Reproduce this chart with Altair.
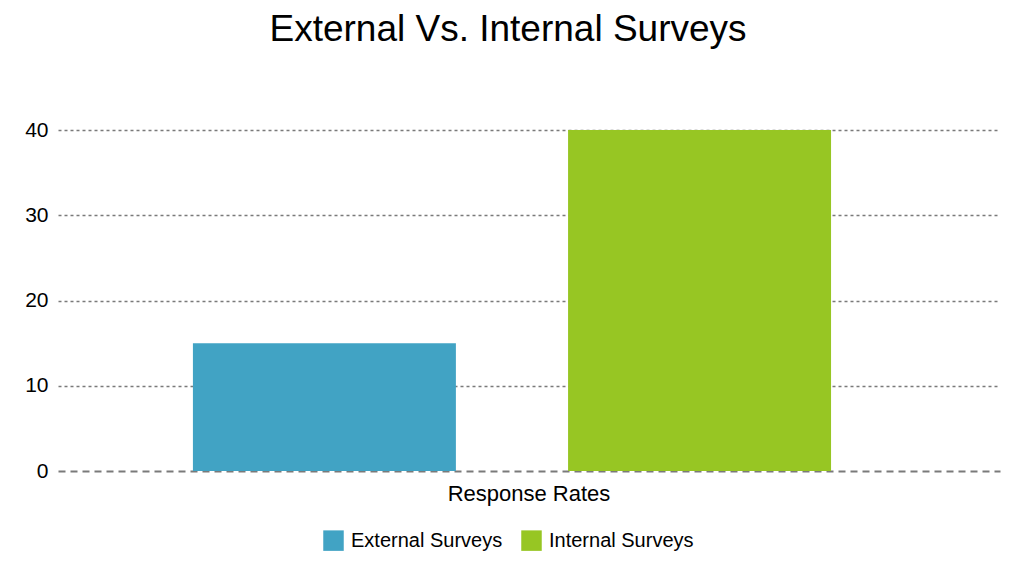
import altair as alt
import pandas as pd

series = ["External Surveys", "Internal Surveys"]
values = [15, 40]
group = ["Response Rates", "Response Rates"]
colors = ["#41a3c4", "#97c623"]

df = pd.DataFrame({"group": group, "series": series, "value": values})

FONT = "Liberation Sans"

chart = alt.Chart(df).mark_bar().encode(
    x=alt.X("group:N", title=None,
            scale=alt.Scale(paddingInner=0, paddingOuter=0),
            axis=alt.Axis(labelAngle=0, labelFontSize=22, labelColor="black",
                          labelFont=FONT, ticks=False, domain=False,
                          labelPadding=12)),
    xOffset=alt.XOffset("series:N",
                        scale=alt.Scale(paddingInner=0.299, paddingOuter=0.405, align=0.444)),
    y=alt.Y("value:Q", title=None,
            scale=alt.Scale(domain=[0, 40], nice=False),
            axis=alt.Axis(values=[0, 10, 20, 30, 40], labelFontSize=21,
                          labelColor="black", labelFont=FONT, ticks=False,
                          domain=False, labelPadding=10,
                          gridColor="#7a7a7a",
                          gridDash={"condition": {"test": "datum.value === 0", "value": [7, 5]}, "value": [3, 3]},
                          gridWidth={"condition": {"test": "datum.value === 0", "value": 2}, "value": 1.5})),
    color=alt.Color("series:N", title=None,
                    scale=alt.Scale(domain=series, range=colors),
                    legend=alt.Legend(orient="none", legendX=265, legendY=400,
                                      direction="horizontal", symbolType="square",
                                      symbolSize=420, symbolStrokeWidth=0,
                                      labelFontSize=20, labelFont=FONT,
                                      labelColor="black", columnPadding=18,
                                      symbolOffset=0, labelOffset=7)),
).properties(
    width=942,
    height=341,
    title=alt.TitleParams("External Vs. Internal Surveys", fontSize=37,
                          font=FONT, fontWeight="normal", color="black",
                          anchor="middle", baseline="alphabetic", offset=41,
                          dx=-21),
    autosize=alt.AutoSizeParams(type="none"),
    padding={"left": 50, "top": 122, "right": 10, "bottom": 85},
).configure_view(stroke=None)

chart.save("out.html", embed_options={"renderer": "svg", "actions": False})
